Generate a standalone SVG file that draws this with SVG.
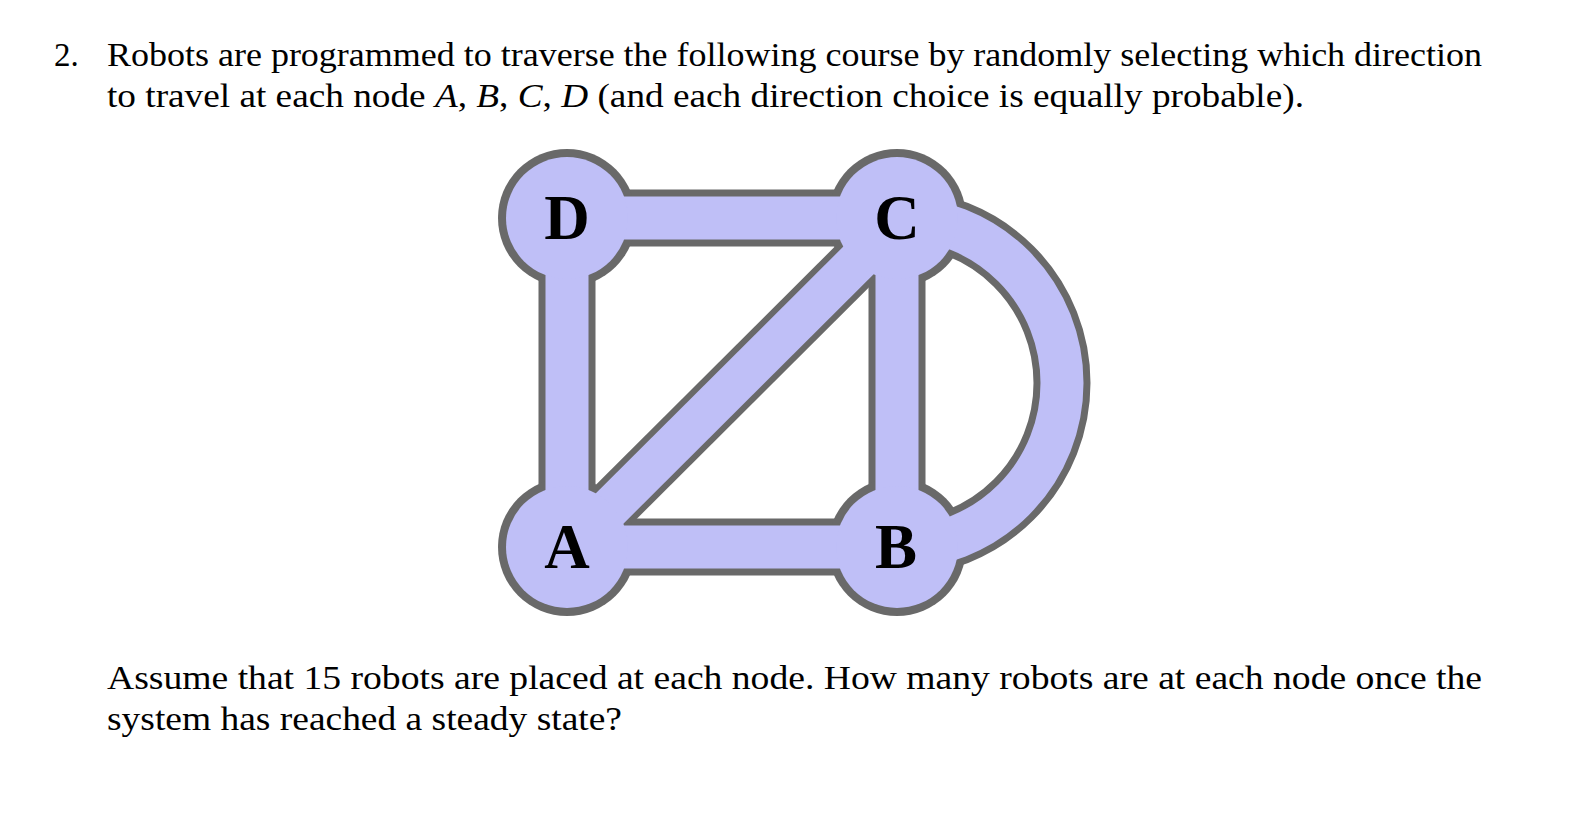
<svg xmlns="http://www.w3.org/2000/svg" width="1584" height="834" viewBox="0 0 1584 834">
<style>
  .txt { font-family: "Liberation Serif", "Times New Roman", serif; font-size: 33px; fill: #000; }
  .m { font-style: italic; }
  .case { fill: none; stroke: #696969; stroke-width: 57; }
  .fill { fill: none; stroke: #BFBFF7; stroke-width: 43; }
  .case-d { fill: none; stroke: #696969; stroke-width: 53; }
  .fill-d { fill: none; stroke: #BFBFF7; stroke-width: 41; }
  .disc-case { fill: #696969; }
  .disc { fill: #BFBFF7; }
  .lbl { font-family: "Liberation Serif", "Times New Roman", serif; font-weight: bold; font-size: 63px; fill: #000; text-anchor: middle; }
</style>
<rect width="1584" height="834" fill="#fff"/>

<g id="text">
  <text class="txt" x="54" y="66">2.</text>
  <text class="txt" x="107" y="66" textLength="1375" lengthAdjust="spacingAndGlyphs">Robots are programmed to traverse the following course by randomly selecting which direction</text>
  <text class="txt" x="107" y="107" textLength="1197" lengthAdjust="spacingAndGlyphs">to travel at each node <tspan class="m">A</tspan>, <tspan class="m">B</tspan>, <tspan class="m">C</tspan>, <tspan class="m">D</tspan> (and each direction choice is equally probable).</text>
  <text class="txt" x="107" y="689" textLength="1375" lengthAdjust="spacingAndGlyphs">Assume that 15 robots are placed at each node. How many robots are at each node once the</text>
  <text class="txt" x="107" y="730" textLength="515" lengthAdjust="spacingAndGlyphs">system has reached a steady state?</text>
</g>

<g id="casing">
  <path class="case" d="M567 218 H897"/>
  <path class="case" d="M567 218 V547"/>
  <path class="case" d="M897 218 V547"/>
  <path class="case" d="M567 547 H897"/>
  <path class="case-d" d="M569 549 L899 220"/>
  <path class="case" d="M897 218 A165 165 0 0 1 897 548"/>
  <circle class="disc-case" cx="567" cy="218" r="69"/>
  <circle class="disc-case" cx="897" cy="218" r="69"/>
  <circle class="disc-case" cx="567" cy="547" r="69"/>
  <circle class="disc-case" cx="897" cy="547" r="69"/>
</g>

<g id="connectors">
  <path id="edge-DC" class="fill" d="M567 218 H897"/>
  <path id="edge-DA" class="fill" d="M567 218 V547"/>
  <path id="edge-CB" class="fill" d="M897 218 V547"/>
  <path id="edge-AB" class="fill" d="M567 547 H897"/>
  <path id="edge-AC" class="fill-d" d="M569 549 L899 220"/>
  <path id="edge-CB-arc" class="fill" d="M897 218 A165 165 0 0 1 897 548"/>
</g>

<g id="node-D">
  <circle class="disc" cx="567" cy="218" r="61"/>
  <text class="lbl" x="567" y="239">D</text>
</g>
<g id="node-C">
  <circle class="disc" cx="897" cy="218" r="61"/>
  <text class="lbl" x="897" y="239">C</text>
</g>
<g id="node-A">
  <circle class="disc" cx="567" cy="547" r="61"/>
  <text class="lbl" x="567" y="568">A</text>
</g>
<g id="node-B">
  <circle class="disc" cx="897" cy="547" r="61"/>
  <text class="lbl" x="896" y="568">B</text>
</g>
</svg>
